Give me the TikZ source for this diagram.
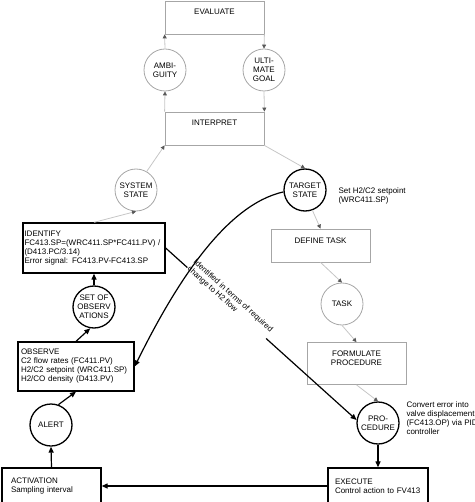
\documentclass[tikz,border=0pt]{standalone}
\usepackage{fontspec}
\setmainfont{Liberation Sans}
\usetikzlibrary{arrows.meta}

\tikzset{
  every node/.style={font=\fontsize{8}{9}\selectfont},
  greybox/.style={draw=gray!70, line width=0.8pt, minimum width=99pt, inner sep=0pt,
    text height=14pt, text depth=19pt, align=center},
  blackbox/.style={draw=black, line width=1.3pt, align=left},
  greystate/.style={circle, draw=gray!70, line width=0.8pt, minimum size=42pt, inner sep=0pt, align=center},
  blackstate/.style={circle, draw=black, line width=1.3pt, minimum size=42pt, inner sep=0pt, align=center},
  greyflow/.style={draw=gray!45, line width=0.8pt, -{Triangle[length=4pt,width=4pt,color=black!65]}},
  blackflow/.style={draw=black, line width=1.2pt, -{Triangle[length=6pt,width=5pt]}}
}

\begin{document}
\begin{tikzpicture}[x=1pt,y=-1pt]
  \clip (0,0) rectangle (474,502);

  % upper part
  \node[greybox] (evaluate) at (214.5,17.5) {EVALUATE};
  \node[greystate] (ambiguity) at (165,70) {AMBI-\\GUITY};
  \node[greystate] (ultimate) at (264,70) {ULTI-\\MATE\\GOAL};
  \node[greybox] (interpret) at (214.5,128.5) {INTERPRET};
  \node[greystate] (systemstate) at (136,190) {SYSTEM\\STATE};
  \node[blackstate] (targetstate) at (305,190) {TARGET\\STATE};
  \node[anchor=west, align=left] (setpoint) at (335,196) {Set H2/C2 setpoint\\(WRC411.SP)};

  % right side
  \node[greybox] (definetask) at (320.5,245.5) {DEFINE TASK};
  \node[greystate] (task) at (342,304) {TASK};
  \node[greybox, text height=23pt] (formulate) at (356.5,363.5) {FORMULATE\\PROCEDURE};
  \node[blackstate] (procedure) at (378,423) {PRO-\\CEDURE};
  \node[anchor=west, align=left] (convert) at (403,418.5) {Convert error into\\valve displacement\\(FC413.OP) via PID\\controller};
  \node[blackbox, minimum width=100pt, minimum height=36pt, text width=86pt, inner xsep=7pt] (execute) at (378,486) {EXECUTE\\Control action to FV413};

  % left side
  \node[blackbox, minimum width=99pt, minimum height=36pt, text width=81pt, inner xsep=9pt] (activation) at (51.5,486) {ACTIVATION\\Sampling interval};
  \node[blackstate] (alert) at (51,425) {ALERT};
  \node[blackbox, minimum height=49pt, text width=110pt, inner xsep=3pt] (observe) at (76,366.5) {OBSERVE\\C2 flow rates (FC411.PV)\\H2/C2 setpoint (WRC411.SP)\\H2/CO density (D413.PV)};
  \node[blackstate] (setobs) at (94,307) {SET OF\\OBSERV\\ATIONS};
  \node[blackbox, minimum height=50pt, text width=139pt, inner xsep=1.5pt] (identify) at (94,248) {IDENTIFY\\FC413.SP=(WRC411.SP*FC411.PV) /\\(D413.PC/3.14)\\Error signal: FC413.PV-FC413.SP};

  % grey connectors
  \draw[greyflow] (identify.north) -- (systemstate.south);
  \draw[greyflow] (systemstate.60) -- (interpret.south west);
  \draw[greyflow] (interpret.north west) -- (ambiguity.south);
  \draw[greyflow] (ambiguity.north) -- (evaluate.south west);
  \draw[greyflow] (evaluate.south east) -- (ultimate.north);
  \draw[greyflow] (ultimate.south) -- (interpret.north east);
  \draw[greyflow] (interpret.south east) -- (targetstate.north);
  \draw[greyflow] (targetstate.290) -- (definetask.north);
  \draw[greyflow] (definetask.south) -- (task.north);
  \draw[greyflow] (task.south) -- (formulate.north);
  \draw[greyflow] (formulate.south) -- (procedure.north);

  % black connectors
  \draw[blackflow] (procedure.south) -- (execute.north);
  \draw[blackflow] (execute.west) -- (activation.east);
  \draw[blackflow] (activation.north) -- (alert.south);
  \draw[blackflow] (alert.70) -- (observe.south);
  \draw[blackflow] (observe.north) -- (setobs.260);
  \draw[blackflow] (setobs.north) -- (identify.south);
  \draw[blackflow] (identify.east) -- node[pos=0.32, sloped, above=-5pt, fill=white, align=left, inner sep=1pt] (required) {Identified in terms of required\\change to H2 flow} (procedure.172);
  \draw[blackflow] (targetstate.185) .. controls (225,205) and (175,285) .. (observe.east);
\end{tikzpicture}
\end{document}
